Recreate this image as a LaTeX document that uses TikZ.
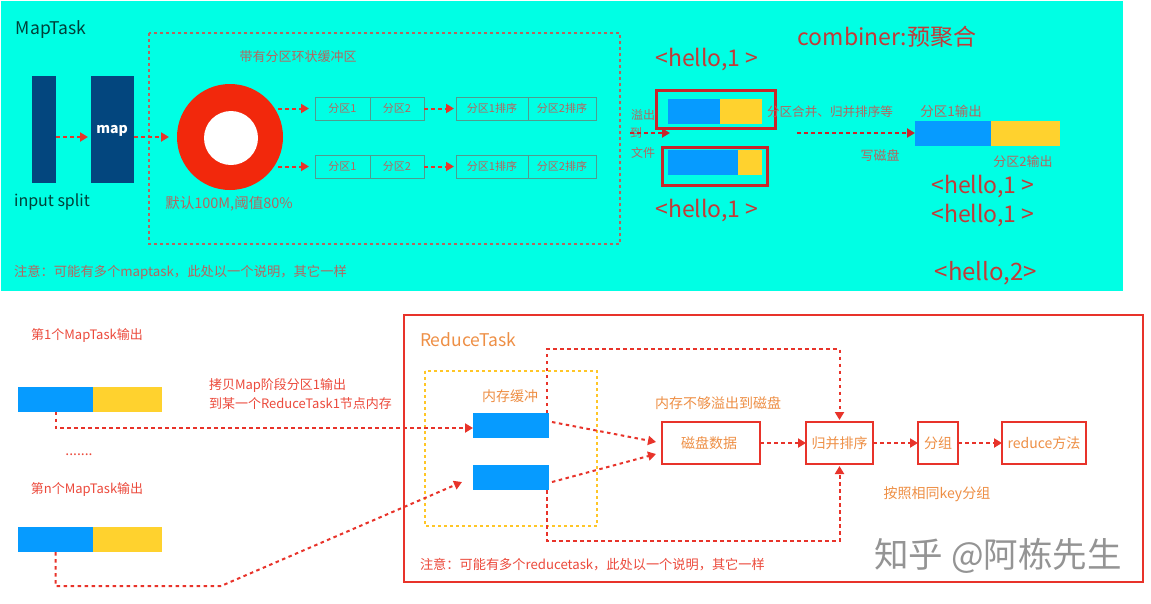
\documentclass[tikz,border=0pt]{standalone}
\usepackage{fontspec}
\setmainfont{Noto Sans CJK SC}
\usetikzlibrary{positioning,arrows.meta}
\definecolor{bgcyan}{HTML}{00FFE4}
\definecolor{barnavy}{HTML}{03467E}
\definecolor{ringred}{HTML}{F2280C}
\definecolor{partblue}{HTML}{069BFF}
\definecolor{partyellow}{HTML}{FFD22E}
\definecolor{mutedred}{HTML}{B5655F}
\definecolor{hellored}{HTML}{C23A38}
\definecolor{linered}{HTML}{E8332A}
\definecolor{boxred}{HTML}{C9252B}
\definecolor{notered}{HTML}{EC4A3C}
\definecolor{noteorange}{HTML}{EE8F45}
\definecolor{slotgreen}{HTML}{4E9C8E}
\tikzset{
	>={Triangle[length=8pt,width=9pt]},
	flow/.style={->,linered,line width=2pt,dash pattern=on 3.5pt off 3.5pt},
	txt/.style={inner sep=0pt,outer sep=0pt,font=\fontsize{13}{15}\selectfont},
	mtxt/.style={txt,mutedred},
	otxt/.style={txt,noteorange,font=\fontsize{14}{16}\selectfont},
	hello/.style={txt,hellored,font=\fontsize{23}{26}\selectfont},
	bar/.style={inner sep=0pt,outer sep=0pt,minimum height=25pt},
	bluebar/.style={bar,fill=partblue},
	yellowbar/.style={bar,fill=partyellow},
	slot/.style={draw=slotgreen,line width=1pt,inner sep=0pt,outer sep=0pt,minimum height=23pt,text=mutedred,font=\fontsize{11}{13}\selectfont},
	step box/.style={draw=linered,line width=1.8pt,inner sep=0pt,outer sep=0pt,minimum height=42pt,text=noteorange,font=\fontsize{14}{16}\selectfont},
}

\begin{document}
\begin{tikzpicture}[x=1pt,y=-1pt]
\useasboundingbox (0,0) rectangle (1151,603);
\fill[white] (0,0) rectangle (1151,603);
\fill[bgcyan] (1,1) rectangle (1123,291);

% map side
\node[txt,anchor=west,font=\fontsize{17.5}{20}\selectfont,black!75!bgcyan](maptask) at (16,30) {MapTask};
\draw[mutedred,line width=1.2pt,dash pattern=on 3pt off 3pt] (149,33) rectangle (620,244);
\node[mtxt](buffertxt) at (298,57) {带有分区环状缓冲区};
\node[fill=barnavy,inner sep=0pt,outer sep=0pt,minimum width=24pt,minimum height=107pt](splitbar) at (44,129.5) {};
\node[fill=barnavy,inner sep=0pt,outer sep=0pt,minimum width=43pt,minimum height=107pt](mapbar) at (112.5,129.5) {};
\node[txt,white,font=\fontsize{14}{16}\selectfont\bfseries](maptxt) at (112,131) {map};
\node[txt,font=\fontsize{16}{18}\selectfont,black!75!bgcyan](splittxt) at (52,202) {input split};
\node[circle,fill=ringred,inner sep=0pt,outer sep=0pt,minimum size=106pt](ring) at (230,137) {};
\node[circle,fill=white,inner sep=0pt,minimum size=54pt](hole) at (231,138) {};
\node[mtxt,font=\fontsize{14.5}{16}\selectfont](ringtxt) at (229,204) {默认100M,阈值80\%};
\draw[flow] (splitbar.east |- ring) -- ([xshift=-3pt]mapbar.west |- ring);
\draw[flow] (mapbar.east |- ring) -- ([xshift=-8pt]ring.west);

\node[slot,minimum width=55pt](rowa) at (342.5,108.5) {分区1};
\node[slot,minimum width=54pt,right=0pt of rowa](rowb) {分区2};
\node[slot,minimum width=72pt](rowc) at (492,108.5) {分区1排序};
\node[slot,minimum width=68pt,right=0pt of rowc](rowd) {分区2排序};
\node[slot,minimum width=55pt](rowe) at (342.5,166.5) {分区1};
\node[slot,minimum width=54pt,right=0pt of rowe](rowf) {分区2};
\node[slot,minimum width=72pt](rowg) at (492,166.5) {分区1排序};
\node[slot,minimum width=68pt,right=0pt of rowg](rowh) {分区2排序};
\draw[flow] ([xshift=-5pt]ring.east |- rowa) -- ([xshift=-6pt]rowa.west);
\draw[flow] ([xshift=-5pt]ring.east |- rowe) -- ([xshift=-6pt]rowe.west);
\draw[flow] (rowb) -- ([xshift=-2pt]rowc.west);
\draw[flow] (rowf) -- ([xshift=-2pt]rowg.west);
\node[mtxt,anchor=west,font=\fontsize{13.3}{15}\selectfont](mapnote) at (14,272) {注意：可能有多个maptask，此处以一个说明，其它一样};

% spill
\node[txt,hellored,font=\fontsize{23}{26}\selectfont](combiner) at (887,37) {combiner:预聚合};
\node[hello](helloa) at (707,60) {<hello,1 >};
\node[hello](hellob) at (707,211) {<hello,1 >};
\node[bluebar,minimum width=52pt](spilla) at (694,111.5) {};
\node[yellowbar,minimum width=42pt,right=0pt of spilla](spillb) {};
\node[bluebar,minimum width=70pt](spillc) at (703,162.5) {};
\node[yellowbar,minimum width=24pt,right=0pt of spillc](spilld) {};
\draw[boxred,line width=3pt] (656,90) rectangle (775,128);
\draw[boxred,line width=3pt] (662,147) rectangle (767,185);
\node[mtxt,font=\fontsize{12}{14}\selectfont](spilltxta) at (643,115) {溢出};
\node[mtxt,font=\fontsize{12}{14}\selectfont](spilltxtb) at (636,133) {到};
\node[mtxt,font=\fontsize{12}{14}\selectfont](spilltxtc) at (643,153) {文件};
\coordinate (spillstart) at (630,133);
\coordinate (spillend) at (670,133);
\draw[flow,boxred] (spillstart) -- (spillend);
\node[mtxt,font=\fontsize{12.6}{15}\selectfont](mergetxt) at (830,112) {分区合并、归并排序等};
\node[bluebar,minimum width=76pt](outa) at (953,133.5) {};
\node[yellowbar,minimum width=69pt,right=0pt of outa](outb) {};
\coordinate (mergestart) at (797,133);
\draw[flow,boxred] (mergestart) -- (outa.west |- mergestart);
\node[mtxt,font=\fontsize{13.5}{15}\selectfont](outatxt) at (951,111) {分区1输出};
\node[mtxt](disktxt) at (880,155) {写磁盘};
\node[mtxt](outbtxt) at (1023,162) {分区2输出};
\node[hello](helloc) at (983,187) {<hello,1 >};
\node[hello](hellod) at (983,216) {<hello,1 >};
\node[hello,font=\fontsize{24}{26}\selectfont](helloe) at (986,273) {<hello,2>};

% copy phase
\node[txt,notered](firsttxt) at (87,335) {第1个MapTask输出};
\node[bluebar,minimum width=75pt](firsta) at (55.5,399) {};
\node[yellowbar,minimum width=69pt,right=0pt of firsta](firstb) {};
\node[txt,notered,font=\fontsize{14}{16}\selectfont](dots) at (79,455) {.......};
\node[txt,notered](lasttxt) at (87,489) {第n个MapTask输出};
\node[bluebar,minimum width=75pt](lasta) at (55.5,539.5) {};
\node[yellowbar,minimum width=69pt,right=0pt of lasta](lastb) {};
\node[txt,notered,anchor=west](copya) at (209,385) {拷贝Map阶段分区1输出};
\node[txt,notered,anchor=west](copyb) at (209,404) {到某一个ReduceTask1节点内存};

% reduce side
\draw[linered,line width=1.8pt] (404,315) rectangle (1143,582);
\node[txt,noteorange,anchor=west,font=\fontsize{17.5}{20}\selectfont](reducetask) at (420,340) {ReduceTask};
\draw[partyellow!85!orange,line width=1.4pt,dash pattern=on 3pt off 3pt] (425,371) rectangle (597,526);
\node[otxt](memtxt) at (510,396) {内存缓冲};
\node[bluebar,minimum width=76pt](mema) at (511,425.5) {};
\node[bluebar,minimum width=76pt](memb) at (511,477.5) {};
\node[step box,minimum width=98pt](disk) at (711,443) {\hspace*{-4pt}磁盘数据};
\node[step box,minimum width=67pt](sort) at (839.5,443) {归并排序};
\node[step box,minimum width=40pt](group) at (938,443) {分组};
\node[step box,minimum width=84pt](reduce) at (1044,443) {reduce方法};
\node[otxt](spillnote) at (718,403) {内存不够溢出到磁盘};
\node[otxt](keytxt) at (937,494) {按照相同key分组};
\node[txt,notered,anchor=west,font=\fontsize{13.2}{15}\selectfont](reducenote) at (420,565) {注意：可能有多个reducetask，此处以一个说明，其它一样};

\coordinate (uppera) at (547,349);
\coordinate (lowera) at (547,541);
\coordinate (lastmid) at (221,586);
\coordinate (lastend) at (462,482);
\draw[flow] (firsta.south) |- (mema.west |- 0,428);
\draw[flow] (lasta.south) |- (lastmid) -- (lastend);
\draw[flow] ([xshift=3pt,yshift=3.5pt]mema.east) -- ([xshift=-6pt,yshift=1pt]disk.west);
\draw[flow] ([xshift=3pt,yshift=-4.5pt]memb.east) -- ([xshift=-6pt,yshift=-11pt]disk.west);
\draw[flow] (disk) -- (sort);
\draw[flow] (sort) -- (group);
\draw[flow] (group) -- (reduce);
\draw[flow] ([xshift=-2pt]mema.north east) -- (uppera) -| ([yshift=2pt]sort.north);
\draw[flow] ([xshift=-2pt]memb.south east) -- (lowera) -| ([yshift=-2pt]sort.south);

\node[txt,black!42,font=\fontsize{34.5}{38}\selectfont](zhihu) at (998,556) {知乎 @阿栋先生};
\end{tikzpicture}
\end{document}
